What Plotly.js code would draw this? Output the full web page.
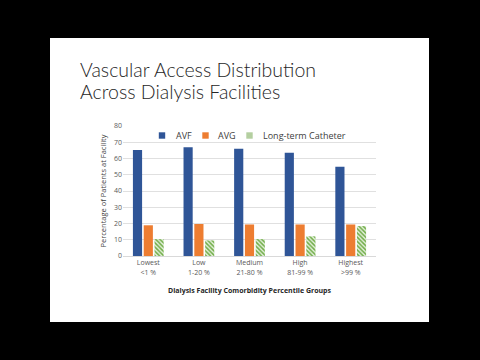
<!DOCTYPE html>
<html><head><meta charset="utf-8">
<script src="https://cdn.plot.ly/plotly-3.0.1.min.js"></script>
<style>
html,body{margin:0;padding:0;background:#000;width:480px;height:360px;overflow:hidden}
#chart{position:absolute;left:50px;top:38px;width:379px;height:284px}
</style></head>
<body><div id="chart"></div>
<script>
const categories = ["Lowest<br><1 %","Low<br>1-20 %","Medium<br>21-80 %","High<br>81-99 %","Highest<br>>99 %"];
const avf = [65.2, 66.9, 66.0, 63.6, 55.0];
const avg = [18.9, 19.7, 19.4, 19.4, 19.4];
const catheter = [10.4, 9.6, 10.4, 12.1, 18.4];
const seriesNames = ["AVF","AVG","Long-term Catheter"];
const seriesColors = ['#2F5597','#ED7D31','#70AD47'];
const legendSwatch = ['#2F5597','#ED7D31','#B4CFA0'];
const yTicks = [0,10,20,30,40,50,60,70,80];

// plot-area geometry inside the 379x284 div
const W = 379, H = 284, M = {l:73, r:53, t:88, b:66};
const pw = W - M.l - M.r, ph = H - M.t - M.b;
const px = xd => (xd - M.l) / pw;
const py = yd => (H - M.b - yd) / ph;

const traces = [
  {type:'bar', name:seriesNames[0], x:categories, y:avf, marker:{color:seriesColors[0]}},
  {type:'bar', name:seriesNames[1], x:categories, y:avg, marker:{color:seriesColors[1]}},
  {type:'bar', name:seriesNames[2], x:categories, y:catheter,
   marker:{color:'#E2EFD9', pattern:{shape:'\\', fgcolor:seriesColors[2], bgcolor:'#E2EFD9', size:3, solidity:0.5}}}
];

// manual legend (compact like the original)
const legSq = [112, 155.5, 199.5];
const legTx = [124, 165.7, 211];
const legY = 97.5;
const annotations = [
  {text:'Vascular Access Distribution', xref:'paper', yref:'paper', x:px(28), xanchor:'left',
   y:py(31), yanchor:'middle', showarrow:false, font:{family:'Lato', size:19.5, color:'#262626', weight:300}},
  {text:'Across Dialysis Facilities', xref:'paper', yref:'paper', x:px(28), xanchor:'left',
   y:py(53), yanchor:'middle', showarrow:false, font:{family:'Lato', size:19.5, color:'#262626', weight:300}}
];
const shapes = [];
seriesNames.forEach((n, i) => {
  annotations.push({text:n, xref:'paper', yref:'paper', x:px(legTx[i]), xanchor:'left', y:py(legY), yanchor:'middle',
    showarrow:false, font:{family:'Open Sans', size:9, color:'#404040'}});
  shapes.push({type:'rect', xref:'paper', yref:'paper', x0:px(legSq[i]-3.2), x1:px(legSq[i]+3.2),
    y0:py(legY+3.2), y1:py(legY-3.2), fillcolor:legendSwatch[i], line:{width:0}});
});

const layout = {
  width:W, height:H,
  paper_bgcolor:'#fff', plot_bgcolor:'#fff',
  margin:M,
  barmode:'group', bargap:0.36, bargroupgap:0.15,
  annotations, shapes,
  font:{family:'Open Sans', color:'#595959'},
  showlegend:false,
  xaxis:{tickfont:{size:7, color:'#595959'}, showline:true, linecolor:'#d9d9d9', ticks:'',
    title:{text:'<b>Dialysis Facility Comorbidity Percentile Groups</b>', font:{size:7, color:'#262626'}, standoff:12}},
  yaxis:{range:[0,80], tickvals:yTicks, showgrid:true, gridcolor:'#e0e0e0', zeroline:false,
    tickfont:{size:7, color:'#595959'}, ticks:'',
    title:{text:'Percentage of Patients at Facility', font:{size:7.5, color:'#404040'}, standoff:6}}
};
Plotly.newPlot('chart', traces, layout, {displayModeBar:false, staticPlot:true});
</script></body></html>
